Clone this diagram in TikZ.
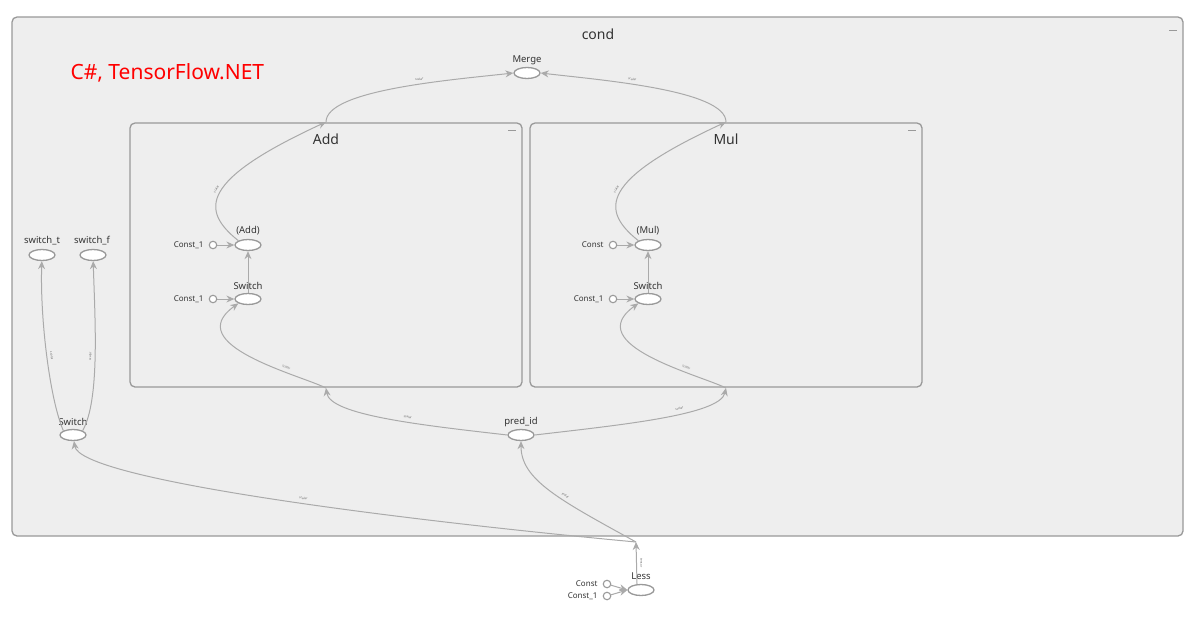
\documentclass[tikz,border=0pt]{standalone}
\usepackage{fontspec}
\setmainfont{Noto Sans}
\usetikzlibrary{arrows.meta,shapes.geometric}
\definecolor{bx}{HTML}{999999}
\definecolor{ed}{HTML}{AAAAAA}
\definecolor{bg}{HTML}{EEEEEE}
\tikzset{
 op/.style={draw=bx,fill=white,line width=1.3pt,ellipse,minimum width=26pt,minimum height=11pt,inner sep=0pt},
 cst/.style={draw=bx,fill=white,line width=1.1pt,circle,minimum size=7.5pt,inner sep=0pt},
 lbl/.style={font=\fontsize{9.5}{10}\selectfont,text=black!80},
 sl/.style={font=\fontsize{8}{9}\selectfont,text=black!80,anchor=east},
 grp/.style={draw=bx,fill=bg,line width=1.3pt,rounded corners=5pt},
 ttl/.style={font=\fontsize{14}{16}\selectfont,text=black!80},
 e/.style={draw=ed,line width=1pt,-{Stealth[length=8pt,width=7pt]}},
 el/.style={font=\fontsize{3}{3}\selectfont,text=black!60,sloped}
}
\begin{document}
\begin{tikzpicture}[x=1pt,y=-1pt]
\useasboundingbox (0,0) rectangle (1200,627);
\fill[white] (0,0) rectangle (1200,627);
\draw[grp] (12,17) rectangle (1183,536);
\node[ttl] (cond) at (598,34) {cond};
\node[anchor=west,text=red,font=\fontsize{21}{23}\selectfont] (cs) at (67,73) {C\#, TensorFlow.NET};
\draw[grp] (130,123) rectangle (522,387);
\draw[grp] (530,123) rectangle (922,387);
\node[ttl] (addt) at (326,139) {Add};
\node[ttl] (mult) at (726,139) {Mul};
\foreach \x/\y in {512/130,912/130,1173/30} \draw[bx,line width=0.8pt] (\x-4,\y)--(\x+4,\y);
\node[op] (merge) at (527,73) {}; \node[lbl] at (527,60) {Merge};
\node[op] (addop) at (248,245) {}; \node[lbl] at (248,231) {(Add)};
\node[op] (asw) at (248,299) {}; \node[lbl] at (248,286) {Switch};
\node[cst] (ac1) at (213,245) {}; \node[sl] at (207,245) {Const\_1};
\node[cst] (ac2) at (213,299) {}; \node[sl] at (207,299) {Const\_1};
\node[op] (mulop) at (648,245) {}; \node[lbl] at (648,231) {(Mul)};
\node[op] (msw) at (648,299) {}; \node[lbl] at (648,286) {Switch};
\node[cst] (mc1) at (613,245) {}; \node[sl] at (607,245) {Const};
\node[cst] (mc2) at (613,299) {}; \node[sl] at (607,299) {Const\_1};
\node[op] (st) at (42,255) {}; \node[lbl] at (42,241) {switch\_t};
\node[op] (sf) at (93,255) {}; \node[lbl] at (92,241) {switch\_f};
\node[op] (sw) at (73,435) {}; \node[lbl] at (73,422) {Switch};
\node[op] (pred) at (521,435) {}; \node[lbl] at (521,422) {pred\_id};
\node[op] (less) at (641,590) {}; \node[lbl] at (641,576) {Less};
\node[cst] (lc1) at (607,584) {}; \node[sl] at (601,584) {Const};
\node[cst] (lc2) at (607,596) {}; \node[sl] at (601,596) {Const\_1};
\coordinate (ab) at (326,388); \coordinate (mb) at (726,388);
\coordinate (at) at (326,122); \coordinate (mt) at (726,122);
\coordinate (lt) at (636,542);
\draw[e] (ac1)--(addop); \draw[e] (ac2)--(asw);
\draw[e] (mc1)--(mulop); \draw[e] (mc2)--(msw);
\draw[e] (lc1)--(less.west); \draw[e] (lc2)--(less.west);
\draw[e] (asw)--(addop); \draw[e] (msw)--(mulop);
\draw[e] (less.north)++(-4,0) -- (lt) node[el,midway,above] {tensor};
\draw[e] (pred.west) .. controls (420,425) and (330,415) .. (ab) node[el,pos=0.4,above] {scalar};
\draw[e] (ab) .. controls (300,375) and (180,345) .. (asw.south west) node[el,pos=0.3,above] {scalar};
\draw[e] (pred.east) .. controls (620,425) and (720,415) .. (mb) node[el,pos=0.6,above] {scalar};
\draw[e] (mb) .. controls (700,375) and (580,345) .. (msw.south west) node[el,pos=0.3,above] {scalar};
\draw[e] (addop.north west) .. controls (200,210) and (200,180) .. (at) node[el,pos=0.5,above] {scalar};
\draw[e] (at) .. controls (326,90) and (450,80) .. (merge.west) node[el,pos=0.6,above] {scalar};
\draw[e] (mulop.north west) .. controls (600,210) and (600,180) .. (mt) node[el,pos=0.5,above] {scalar};
\draw[e] (mt) .. controls (726,90) and (600,80) .. (merge.east) node[el,pos=0.6,above] {scalar};
\draw[e] (sw.north west) .. controls (50,400) and (40,320) .. (st) node[el,pos=0.5,above] {scalar};
\draw[e] (sw.north east) .. controls (100,400) and (95,320) .. (sf) node[el,pos=0.5,above] {scalar};
\draw[e] (lt) .. controls (400,520) and (80,480) .. (sw) node[el,pos=0.45,above] {scalar};
\draw[e] (lt) .. controls (560,500) and (521,480) .. (pred) node[el,pos=0.4,above] {scalar};
\end{tikzpicture}
\end{document}
